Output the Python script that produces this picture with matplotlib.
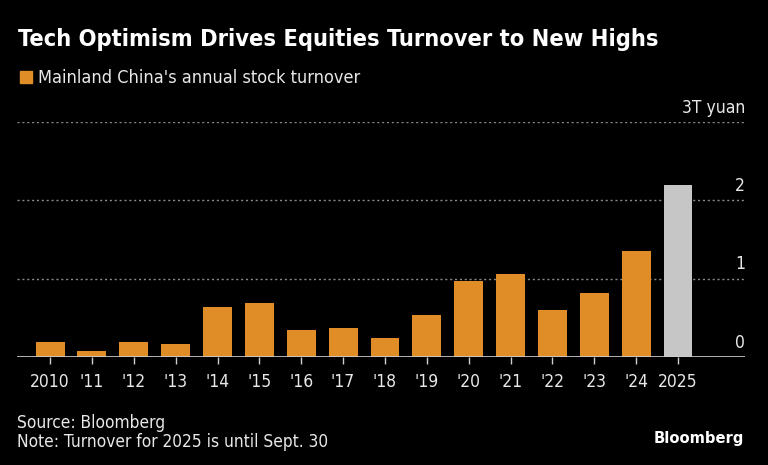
import matplotlib
matplotlib.use("Agg")
import matplotlib.pyplot as plt
from matplotlib.patches import Rectangle

years = ["2010", "'11", "'12", "'13", "'14", "'15", "'16", "'17", "'18",
         "'19", "'20", "'21", "'22", "'23", "'24", "2025"]
turnover = [0.195, 0.08, 0.19, 0.166, 0.646, 0.69, 0.345, 0.37, 0.243,
            0.536, 0.97, 1.064, 0.604, 0.825, 1.354, 2.197]
ytick_vals = [0, 1, 2, 3]
ytick_labels = ["0", "1", "2", "3T yuan"]

ORANGE = "#E08C27"
GREY = "#C6C6C6"
TXT = "#E8E8E8"
BG = "#000000"

plt.rcParams['font.family'] = ['DejaVu Sans']
plt.rcParams['font.stretch'] = 'condensed'

fig = plt.figure(figsize=(7.68, 4.65), dpi=100, facecolor=BG)
ax = fig.add_axes([17/768, 1-357.3/465, (745-17)/768, (357.3-122)/465])
ax.set_facecolor(BG)

x = list(range(len(years)))
colors = [ORANGE]*(len(years)-1) + [GREY]
ax.bar(x, turnover, width=0.69, color=colors, zorder=3)

ax.set_xlim(-0.79, 16.6)
ax.set_ylim(0, 3)

for v in ytick_vals[1:]:
    ax.axhline(v, color="#8a8a8a", lw=1, ls=(0, (1.5, 2)), zorder=1)
ax.axhline(0, color="#d0d0d0", lw=1.2, zorder=4)

for v, lab in zip(ytick_vals, ytick_labels):
    ax.text(1.0, v + 0.07, lab, transform=ax.get_yaxis_transform(), ha="right", va="bottom",
            color=TXT, fontsize=12.5)

ax.set_yticks([])
ax.set_xticks(x)
ax.set_xticklabels(years, color=TXT, fontsize=12.5)
ax.tick_params(axis="x", length=5, width=1, color="#d0d0d0", pad=6)
for s in ax.spines.values():
    s.set_visible(False)

fig.text(18/768, 1-46/465, "Tech Optimism Drives Equities Turnover to New Highs",
         color="white", fontsize=16.9, fontweight="bold", ha="left", va="baseline")
fig.add_artist(Rectangle((20/768, 1-83/465), 12/768, 11.5/465, transform=fig.transFigure,
                         color=ORANGE))
fig.text(38/768, 1-83/465, "Mainland China's annual stock turnover",
         color=TXT, fontsize=13, ha="left", va="baseline")
fig.text(17/768, 1-428/465, "Source: Bloomberg", color=TXT, fontsize=12.4,
         ha="left", va="baseline")
fig.text(17/768, 1-447/465, "Note: Turnover for 2025 is until Sept. 30", color=TXT,
         fontsize=12.4, ha="left", va="baseline")
fig.text(744/768, 1-443/465, "Bloomberg", color="white", fontsize=11.8,
         fontweight="bold", ha="right", va="baseline")

fig.savefig("out.png", dpi=100, facecolor=BG)
